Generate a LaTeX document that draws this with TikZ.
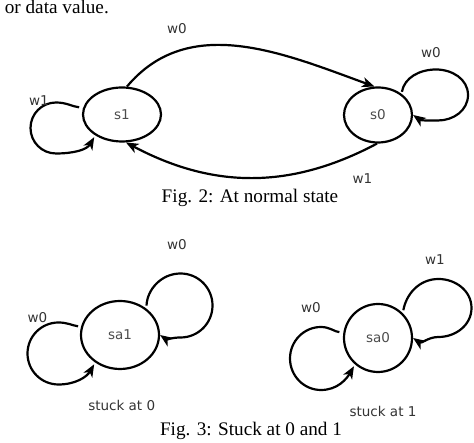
\documentclass[tikz,border=0pt]{standalone}
\usepackage{fontspec}
\setmainfont{Liberation Serif}
\newfontfamily\lblfont{DejaVu Sans}
\usetikzlibrary{arrows.meta,shapes.geometric}
\begin{document}
\begin{tikzpicture}[x=1pt,y=1pt,
  state/.style={draw, ellipse, line width=2.2pt, inner sep=0pt,
    font=\lblfont\fontsize{13.5}{16}\selectfont, text=black!70},
  lbl/.style={inner sep=0pt, font=\lblfont\fontsize{13.5}{16}\selectfont, text=black!80},
  captext/.style={inner sep=0pt, font=\fontsize{19.2}{23}\selectfont, anchor=base},
  conn/.style={line width=2.2pt, -{Stealth[length=12.5pt,width=10pt,inset=3.5pt]}},
]
\useasboundingbox (0,0) rectangle (474,443);

% top text
\node[captext, anchor=base east] (intro) at (109,429) {or data value.};

% ---------- Fig. 2 ----------
\node[state, minimum width=78, minimum height=54] (s1) at (122,328.5) {s1};
\node[state, minimum width=68, minimum height=55] (s0) at (378,328) {s0};

\draw[conn] (s1.80) to[out=50,in=160] (s0.97);
\draw[conn] (s0.268) to[out=208,in=-28] (s1.278);

\coordinate (s1t) at (56,340.5);
\coordinate (s1l) at (30.5,315);
\coordinate (s1b) at (56,289.5);
\draw[conn, shorten <=4pt, shorten >=2pt] (s1.170) to[out=175,in=0] (s1t)
  to[out=180,in=90] (s1l) to[out=-90,in=180] (s1b) to[out=0,in=-120] (s1.218);

\coordinate (s0t) at (436,373.5);
\coordinate (s0r) at (468,348);
\coordinate (s0b) at (438,322.5);
\draw[conn, shorten <=2pt] (s0.42) to[out=80,in=180] (s0t)
  to[out=0,in=90] (s0r) to[out=-90,in=0] (s0b) to[out=180,in=-35] (s0.0);

\node[lbl] (lw0a) at (177,414) {w0};
\node[lbl] (lw1a) at (39,342) {w1};
\node[lbl] (lw0b) at (431,390.5) {w0};
\node[lbl] (lw1b) at (362.5,264.5) {w1};

\node[captext] (cap2) at (250,240) {Fig. 2: At normal state};

% ---------- Fig. 3 ----------
\node[state, minimum width=78, minimum height=68] (sa1) at (120,108) {sa1};
\node[state, minimum width=68, minimum height=68] (sa0) at (378,105) {sa0};

\coordinate (a1t) at (58.5,120.5);
\coordinate (a1l) at (27.5,89.5);
\coordinate (a1b) at (58.5,58.5);
\draw[conn, shorten <=3pt, shorten >=2pt] (sa1.168) to[out=172,in=0] (a1t)
  to[out=180,in=90] (a1l) to[out=-90,in=180] (a1b) to[out=0,in=-120] (sa1.228);

\coordinate (b1t) at (180.5,169.5);
\coordinate (b1r) at (212.5,137.5);
\coordinate (b1b) at (180.5,105.5);
\draw[conn, shorten <=3pt] (sa1.45) to[out=88,in=180] (b1t)
  to[out=0,in=90] (b1r) to[out=-90,in=0] (b1b) to[out=180,in=-35] (sa1.0);

\coordinate (a0t) at (321,116);
\coordinate (a0l) at (290,84.5);
\coordinate (a0b) at (321,53);
\draw[conn, shorten <=4pt, shorten >=2pt] (sa0.171) to[out=175,in=0] (a0t)
  to[out=180,in=90] (a0l) to[out=-90,in=180] (a0b) to[out=0,in=-120] (sa0.229);

\coordinate (b0t) at (438.5,164);
\coordinate (b0r) at (471.5,135);
\coordinate (b0b) at (438.5,106);
\draw[conn, shorten <=3pt] (sa0.45) to[out=80,in=180] (b0t)
  to[out=0,in=90] (b0r) to[out=-90,in=0] (b0b) to[out=180,in=-35] (sa0.0);

\node[lbl] (lw0c) at (177,198) {w0};
\node[lbl] (lw0d) at (37.5,125.5) {w0};
\node[lbl] (lst0) at (121.7,38) {stuck at 0};
\node[lbl] (lw0e) at (311,135.5) {w0};
\node[lbl] (lw1c) at (435,183) {w1};
\node[lbl] (lst1) at (383,31.5) {stuck at 1};

\node[captext] (cap3) at (251,7) {Fig. 3: Stuck at 0 and 1};
\end{tikzpicture}
\end{document}
